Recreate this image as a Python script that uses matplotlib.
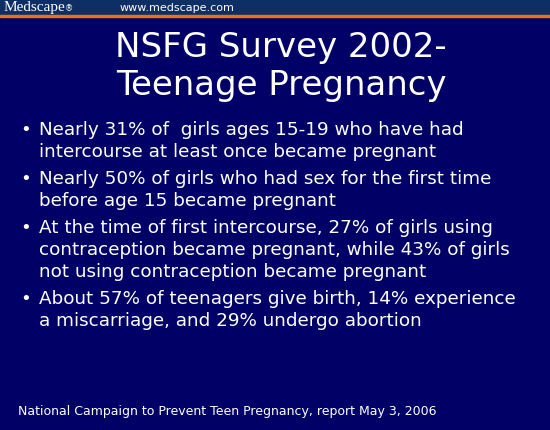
import matplotlib
matplotlib.use("Agg")
import matplotlib.pyplot as plt
from matplotlib.patches import Rectangle

title_lines = ["NSFG Survey 2002-", "Teenage Pregnancy"]
bullets = [
    ["Nearly 31% of  girls ages 15-19 who have had", "intercourse at least once became pregnant"],
    ["Nearly 50% of girls who had sex for the first time", "before age 15 became pregnant"],
    ["At the time of first intercourse, 27% of girls using", "contraception became pregnant, while 43% of girls", "not using contraception became pregnant"],
    ["About 57% of teenagers give birth, 14% experience", "a miscarriage, and 29% undergo abortion"],
]
source = "National Campaign to Prevent Teen Pregnancy, report May 3, 2006"

W, H = 550, 430
fig = plt.figure(figsize=(5.5, 4.3), dpi=100)
fig.patch.set_facecolor("#000066")
ax = fig.add_axes([0, 0, 1, 1])
ax.set_xlim(0, W); ax.set_ylim(H, 0); ax.axis("off")
ax.add_patch(Rectangle((0, 0), W, 15, color="#0d2f66"))
ax.add_patch(Rectangle((0, 15), W, 2, color="#f07000"))
ax.text(4, 8, "Medscape", family="Liberation Serif", fontsize=11, color="white", va="center")
ax.text(65, 9, "®", fontsize=6, color="white", va="center")
ax.text(120, 8, "www.medscape.com", family="DejaVu Sans", fontsize=8, color="white", va="center")

ax.text(281, 47, title_lines[0], ha="center", va="center", fontsize=24.5, color="white", family="DejaVu Sans")
ax.text(281, 86, title_lines[1], ha="center", va="center", fontsize=24.5, color="white", family="DejaVu Sans")

y = 130
for b in bullets:
    ax.text(20, y, "•", fontsize=13, color="white", va="center")
    for line in b:
        ax.text(39, y, line, fontsize=13.2, color="white", va="center", family="DejaVu Sans")
        y += 22
    y += 5
ax.text(18, 411, source, fontsize=9, color="white", va="center", family="DejaVu Sans")
fig.savefig("out.png", dpi=100, facecolor=fig.get_facecolor())
